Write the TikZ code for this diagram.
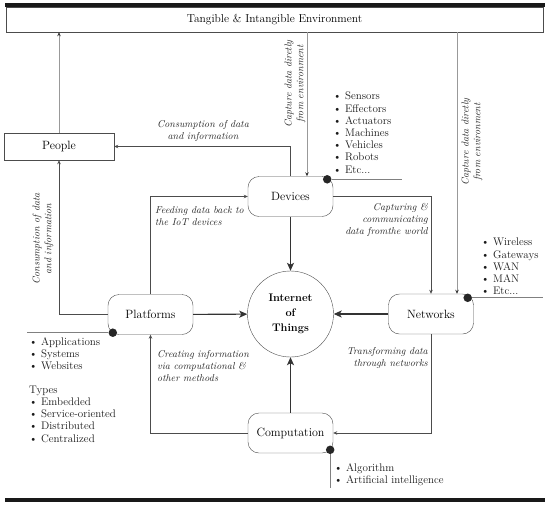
\documentclass[tikz,border=0pt]{standalone}
\usepackage{amsmath, amssymb}
\usetikzlibrary{arrows.meta,calc}
\begin{document}
\begin{tikzpicture}[x=1pt,y=-1pt, inner sep=1mm, >=stealth,
  blk/.style={draw=black!70, thin, rounded corners=11pt, minimum width=85pt, minimum height=40pt, inner sep=0pt, font=\fontsize{12}{14}\selectfont},
  sqbox/.style={draw=black!70, thin, minimum width=110pt, minimum height=27pt, inner sep=0pt, font=\fontsize{12}{14}\selectfont},
  envbox/.style={draw=black!70, thin, minimum width=537pt, minimum height=25pt, inner sep=0pt, font=\fontsize{11.5}{14}\selectfont},
  iot/.style={circle, draw=black!70, thin, minimum size=86pt, inner sep=0pt, align=center, font=\fontsize{11}{15}\selectfont\bfseries},
  lbl/.style={inner sep=0pt, text=black!85, font=\fontsize{10}{11.6}\selectfont\itshape},
  list/.style={anchor=north west, align=left, inner sep=0pt, text=black!90, font=\fontsize{11}{12.2}\selectfont},
  dot/.style={circle, fill=black!85, inner sep=0pt, minimum size=8.5pt},
  mainarr/.style={draw=black!80, line width=1.1pt, -{Stealth[length=8pt,width=7pt,inset=2pt]}},
  thinarr/.style={draw=black!70, line width=0.6pt, -{Stealth[length=4pt,width=3.5pt]}},
  envarr/.style={draw=black!40, line width=0.7pt, -{Stealth[length=4pt,width=3.5pt,color=black!80]}},
  lead/.style={draw=black!50, line width=0.7pt},
  bar/.style={draw=black!90, line width=3.5pt}]
\useasboundingbox (0,0) rectangle (550,507);
\draw[bar] (5,5) -- (545,5);
\draw[bar] (5,500) -- (545,500);
\node (env) at (274.5,19.5) [envbox] {Tangible \& Intangible Environment};
\node (people) at (59,146.5) [sqbox] {People};
\node (dev) at (290.5,196.5) [blk] {Devices};
\node (plat) at (150.5,314.5) [blk] {Platforms};
\node (net) at (431,314) [blk] {Networks};
\node (comp) at (290.5,433) [blk] {Computation};
\node (thing) at (290.5,314) [iot] {Internet\\of\\Things};
\coordinate (capA) at (307,0);
\coordinate (capB) at (457,0);
\coordinate (devend) at (402,0);
\coordinate (netend) at (543,0);
\coordinate (platend) at (27,0);
\coordinate (compend) at (0,488);
\draw[mainarr] (dev) -- (thing);
\draw[mainarr] (plat) -- (thing);
\draw[mainarr] (net) -- (thing);
\draw[mainarr] (comp) -- (thing);
\draw[thinarr] (dev.north) |- (people.east);
\draw[thinarr] (plat.west) -| (people.south);
\draw[envarr] (people.north) -- (people.north |- env.south);
\draw[envarr] (env.south -| capA) -- (dev.north -| capA);
\draw[envarr] (env.south -| capB) -- (net.north -| capB);
\draw[thinarr] (plat.north) |- (dev.west);
\draw[thinarr] (dev.east) -| (net.north);
\draw[thinarr] (net.south) |- (comp.east);
\draw[thinarr] (comp.west) -| (plat.south);
\node (devdot) at ($(dev.north east)+(-6,3)$) [dot] {};
\node (netdot) at ($(net.north east)+(-6,4)$) [dot] {};
\node (platdot) at ($(plat.south west)+(5,-2)$) [dot] {};
\node (compdot) at ($(comp.south east)+(-3,-3.4)$) [dot] {};
\draw[lead] (devdot) -- (devdot -| devend);
\draw[lead] (netdot) -- (netdot -| netend);
\draw[lead] (platdot) -- (platdot -| platend);
\draw[lead] (compdot) -- (compdot |- compend);
\node (lcons) at (203,131) [lbl, align=center] {Consumption of data\\and information};
\node (lconsb) at (43,239) [lbl, align=center, rotate=90] {Consumption of data\\and information};
\node (lcapA) at (295,84) [lbl, align=center, rotate=90] {Capture data diretly\\from environment};
\node (lcapB) at (472,142) [lbl, align=center, rotate=90] {Capture data diretly\\from environment};
\node (lfeed) at (155,216) [lbl, anchor=west, align=left] {Feeding data back to\\the IoT devices};
\node (lcapt) at (428,220) [lbl, anchor=east, align=right] {Capturing \&\\communicating\\data fromthe world};
\node (lcreate) at (157,366) [lbl, anchor=west, align=left] {Creating information\\via computational \&\\other methods};
\node (ltrans) at (428,358) [lbl, anchor=east, align=right] {Transforming data\\through networks};
\node (devlist) at (333,92) [list] {\textbullet\ Sensors\\\textbullet\ Effectors\\\textbullet\ Actuators\\\textbullet\ Machines\\\textbullet\ Vehicles\\\textbullet\ Robots\\\textbullet\ Etc...};
\node (netlist) at (481,238) [list] {\textbullet\ Wireless\\\textbullet\ Gateways\\\textbullet\ WAN\\\textbullet\ MAN\\\textbullet\ Etc...};
\node (platlist) at (29,337) [list] {\textbullet\ Applications\\\textbullet\ Systems\\\textbullet\ Websites\\[11.6pt]Types\\\textbullet\ Embedded\\\textbullet\ Service-oriented\\\textbullet\ Distributed\\\textbullet\ Centralized};
\node (complist) at (334,463) [list] {\textbullet\ Algorithm\\\textbullet\ Artificial intelligence};
\end{tikzpicture}
\end{document}
